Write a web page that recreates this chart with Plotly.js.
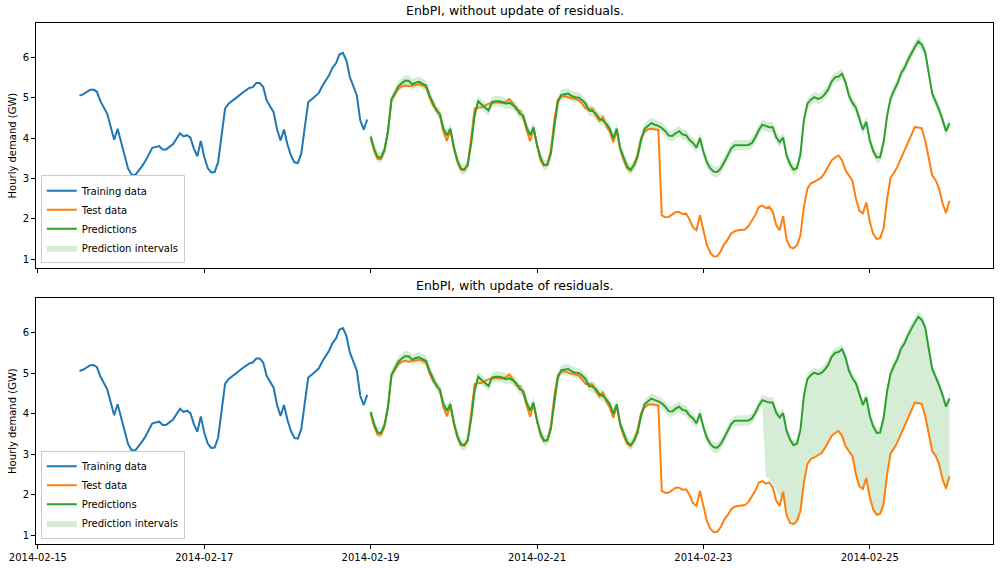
<!DOCTYPE html>
<html>
<head>
<meta charset="utf-8">
<script src="https://cdn.plot.ly/plotly-3.0.1.min.js"></script>
<style>
html,body{margin:0;padding:0;background:#fff;}
#chart{width:1000px;height:568px;}
</style>
</head>
<body>
<div id="chart"></div>
<script>
// ---------------- DATA ----------------
// hours counted from 2014-02-15 00:00
const trainHours = [12,13,15,16,17,18,20,22,23,25,26,27,28,30,31,33,35,36,37,39,
  41,42,43,44,45,46,47,48,49,50,51,52,54,55,56,58,59,61,62,63,
  64,65,66,67,68,69,70,71,72,73,74,75,76,77,78,79,81,82,83,84,
  85,86,87,88,89,90,92,93,94,95];
const trainValues = [5.05,5.08,5.19,5.20,5.15,4.92,4.60,3.96,4.23,3.55,
  3.25,3.10,3.08,3.30,3.43,3.76,3.80,3.72,3.72,3.85,
  4.12,4.04,4.07,4.01,3.74,3.55,3.93,3.53,3.26,3.15,
  3.16,3.41,4.73,4.85,4.91,5.05,5.12,5.24,5.26,5.36,
  5.36,5.26,4.93,4.78,4.64,4.21,3.94,4.21,3.84,3.57,
  3.40,3.38,3.62,4.27,4.89,4.96,5.11,5.28,5.40,5.55,
  5.74,5.85,6.07,6.11,5.92,5.51,5.06,4.44,4.21,4.46];

// hourly test period, first hour = 96 (2014-02-19 00:00)
const testFirstHour = 96;
const testValues = [
  4.00,3.68,3.48,3.48,3.68,4.20,4.95,5.08,5.22,5.28,5.30,5.28,5.30,5.32,5.33,5.30,5.25,5.00,4.80,4.72,4.55,4.15,3.93,4.20,
  3.75,3.42,3.22,3.20,3.35,4.00,4.73,4.75,4.76,4.80,4.85,4.86,4.88,4.88,4.86,4.90,4.96,4.86,4.70,4.68,4.50,4.20,3.92,4.22,
  3.80,3.45,3.32,3.33,3.70,4.45,4.95,5.03,5.04,5.00,4.98,4.97,4.94,4.85,4.73,4.73,4.72,4.55,4.42,4.52,4.30,4.15,3.90,4.18,
  3.72,3.45,3.25,3.19,3.35,3.60,4.00,4.15,4.22,4.23,4.22,4.20,2.09,2.04,2.05,2.12,2.17,2.17,2.12,2.13,1.99,1.79,1.72,2.09,
  1.68,1.35,1.16,1.07,1.08,1.20,1.38,1.49,1.64,1.70,1.72,1.73,1.74,1.82,1.95,2.10,2.30,2.33,2.27,2.30,2.18,1.85,1.72,2.07,
  1.49,1.30,1.27,1.35,1.60,2.30,2.75,2.88,2.92,2.96,3.02,3.14,3.30,3.45,3.52,3.57,3.45,3.20,3.07,2.95,2.50,2.20,2.14,2.41,
  1.93,1.63,1.50,1.53,1.77,2.50,3.02,3.14,3.30,3.50,3.66,3.90,4.10,4.27,4.26,4.24,3.94,3.49,3.08,2.96,2.75,2.38,2.15,2.45];
const predValues = [
  4.04,3.74,3.53,3.52,3.72,4.15,4.95,5.10,5.28,5.36,5.42,5.41,5.33,5.37,5.39,5.34,5.30,5.05,4.85,4.68,4.59,4.23,4.07,4.23,
  3.78,3.45,3.25,3.22,3.33,3.86,4.56,4.91,4.83,4.76,4.68,4.89,4.91,4.91,4.89,4.85,4.87,4.82,4.75,4.60,4.56,4.27,4.07,4.27,
  3.82,3.52,3.33,3.35,3.62,4.27,4.89,5.07,5.09,5.10,5.04,5.01,5.00,4.94,4.85,4.68,4.67,4.60,4.48,4.44,4.35,4.23,3.99,4.23,
  3.74,3.50,3.30,3.22,3.33,3.53,3.94,4.23,4.30,4.37,4.33,4.30,4.25,4.17,4.06,4.05,4.12,4.17,4.09,4.07,3.95,3.88,3.76,4.00,
  3.66,3.40,3.25,3.17,3.16,3.25,3.40,3.58,3.74,3.82,3.82,3.82,3.82,3.83,3.88,4.02,4.20,4.33,4.30,4.27,4.27,4.02,3.90,4.01,
  3.57,3.35,3.22,3.26,3.60,4.45,4.85,4.95,5.01,4.97,5.00,5.08,5.20,5.40,5.50,5.52,5.59,5.38,5.05,4.87,4.75,4.50,4.21,4.40,
  3.94,3.68,3.52,3.53,3.90,4.55,4.98,5.18,5.35,5.60,5.73,5.93,6.10,6.25,6.39,6.31,6.12,5.59,5.10,4.90,4.70,4.45,4.17,4.37];
// half width of the prediction interval (without update)
const intervalHalfWidth = 0.13;
// lower bound of the updated interval, from hour 210 on
const updatedFromHour = 210;
const updatedLower = [2.45,2.38,2.28,2.10,1.95,1.90,1.60,1.38,1.27,1.30,
  1.55,2.25,2.72,2.85,2.90,2.95,3.00,3.12,3.28,3.42,
  3.50,3.55,3.43,3.18,3.05,2.93,2.48,2.18,2.10,2.30,
  1.90,1.60,1.47,1.50,1.72,2.45,2.98,3.10,3.27,3.47,
  3.62,3.86,4.06,4.22,4.22,4.20,3.90,3.42,3.00,2.90,
  2.70,2.30,2.08,2.40];
const panelTitles = ['EnbPI, without update of residuals.', 'EnbPI, with update of residuals.'];
const seriesNames = ['Training data','Test data','Predictions','Prediction intervals'];

// ---------------- BUILD ----------------
const base = Date.UTC(2014,1,15,0,0,0);
function hourToDate(h){
  return new Date(base + h*3600000).toISOString().slice(0,19).replace('T',' ');
}
const trainX = trainHours.map(hourToDate);
const testX = testValues.map((_,i)=>hourToDate(testFirstHour+i));
const upper = predValues.map(v=>v+intervalHalfWidth);
const lowerTop = predValues.map(v=>v-intervalHalfWidth);
const lowerBottom = predValues.map((v,i)=>{
  const h = testFirstHour+i;
  return h>=updatedFromHour ? updatedLower[h-updatedFromHour] : v-intervalHalfWidth;
});

const C = {blue:'#1f77b4', orange:'#ff7f0e', green:'#2ca02c', fill:'rgba(44,160,44,0.2)'};
const traces = [];
function panel(xa, ya, lg, lower){
  traces.push({x:testX, y:lower, xaxis:xa, yaxis:ya, mode:'lines', line:{width:0,color:C.fill},
    showlegend:false, hoverinfo:'skip', legend:lg});
  traces.push({x:testX, y:upper, xaxis:xa, yaxis:ya, mode:'lines', line:{width:0,color:C.fill},
    fill:'tonexty', fillcolor:C.fill, name:seriesNames[3], legend:lg, legendrank:4});
  traces.push({x:trainX, y:trainValues, xaxis:xa, yaxis:ya, mode:'lines', line:{width:2,color:C.blue},
    name:seriesNames[0], legend:lg, legendrank:1});
  traces.push({x:testX, y:testValues, xaxis:xa, yaxis:ya, mode:'lines', line:{width:2,color:C.orange},
    name:seriesNames[1], legend:lg, legendrank:2});
  traces.push({x:testX, y:predValues, xaxis:xa, yaxis:ya, mode:'lines', line:{width:2,color:C.green},
    name:seriesNames[2], legend:lg, legendrank:3});
}
panel('x','y','legend',lowerTop);
panel('x2','y2','legend2',lowerBottom);

const font = {family:'DejaVu Sans, sans-serif', size:10, color:'#000'};
const xRange = [hourToDate(-0.55), hourToDate(275.55)];
const xCommon = {type:'date', range:xRange, tick0:'2014-02-15', dtick:2*86400000, tickformat:'%Y-%m-%d',
  showgrid:false, zeroline:false, showline:true, mirror:true, linecolor:'#000', linewidth:1,
  ticks:'outside', ticklen:4, tickcolor:'#000', tickfont:font};
const yCommon = {range:[0.78,6.845], dtick:1, tick0:0, showgrid:false, zeroline:false, showline:true, mirror:true,
  linecolor:'#000', linewidth:1, ticks:'outside', ticklen:4, tickcolor:'#000', tickfont:font,
  title:{text:'Hourly demand (GW)', font:font, standoff:4}};
const legendCommon = {font:font, bgcolor:'rgba(255,255,255,0.8)', bordercolor:'#cccccc', borderwidth:1,
  xanchor:'left', yanchor:'bottom', tracegroupgap:0, itemwidth:30, traceorder:'normal'};

const titleFont = {family:'DejaVu Sans, sans-serif', size:12.5, color:'#000'};
const layout = {
  width:1000, height:568,
  margin:{l:36, r:7, t:23, b:24},
  paper_bgcolor:'#fff', plot_bgcolor:'#fff',
  font:font,
  showlegend:true,
  xaxis:Object.assign({}, xCommon, {anchor:'y', domain:[0,1], showticklabels:false, matches:'x2'}),
  xaxis2:Object.assign({}, xCommon, {anchor:'y2', domain:[0,1]}),
  yaxis:Object.assign({}, yCommon, {anchor:'x', domain:[0.5292,1]}),
  yaxis2:Object.assign({}, yCommon, {anchor:'x2', domain:[0,0.4716]}),
  legend:Object.assign({}, legendCommon, {x:0.005, y:0.539}),
  legend2:Object.assign({}, legendCommon, {x:0.005, y:0.0102}),
  annotations:[
    {text:panelTitles[0], xref:'paper', yref:'paper', x:0.5, y:1, yshift:3, xanchor:'center', yanchor:'bottom',
     showarrow:false, font:titleFont},
    {text:panelTitles[1], xref:'paper', yref:'paper', x:0.5, y:0.4716, yshift:3, xanchor:'center', yanchor:'bottom',
     showarrow:false, font:titleFont}
  ]
};
Plotly.newPlot('chart', traces, layout, {displayModeBar:false, staticPlot:true});
</script>
</body>
</html>
